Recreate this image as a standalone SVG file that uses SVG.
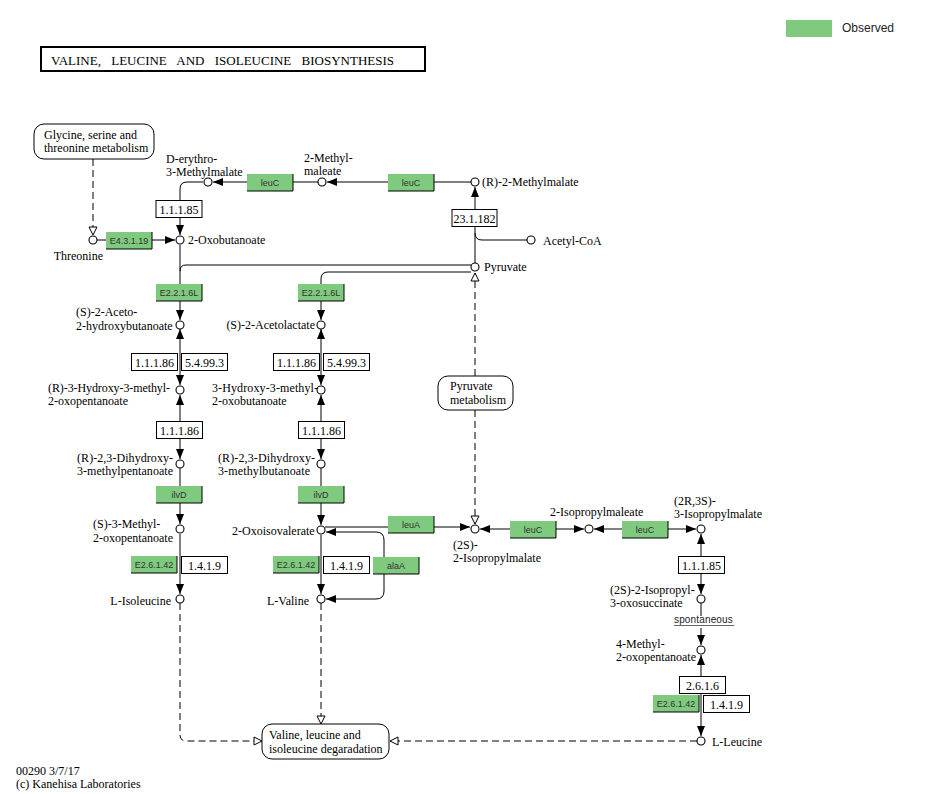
<svg xmlns="http://www.w3.org/2000/svg" width="926" height="794" viewBox="0 0 926 794">
<defs>
<style>
.c{font-family:"Liberation Serif","Times New Roman",serif;font-size:12px;fill:#000}
.ce{font-family:"Liberation Serif","Times New Roman",serif;font-size:12px;fill:#000;text-anchor:middle}
.gt{font-family:"Liberation Sans",Arial,sans-serif;font-size:9px;fill:#333;text-anchor:middle}
.ln{fill:none;stroke:#000;stroke-width:1}
.dl{fill:none;stroke:#000;stroke-width:1;stroke-dasharray:7,4}
.cp{fill:#fff;stroke:#000;stroke-width:1.1}
.eb{fill:#fff;stroke:#000;stroke-width:1}
.gb{fill:#7fca7f}
.sh{fill:none;stroke:#000;stroke-width:1}
.mp{fill:#fff;stroke:#000;stroke-width:1}
</style>
<marker id="a" markerUnits="userSpaceOnUse" markerWidth="10" markerHeight="8" refX="10" refY="4" orient="auto-start-reverse"><path d="M0,0 L10,4 L0,8 z" fill="#000"/></marker>
<marker id="h" markerUnits="userSpaceOnUse" markerWidth="10" markerHeight="10" refX="9" refY="5" orient="auto"><path d="M1,1 L9,5 L1,9 z" fill="#fff" stroke="#000" stroke-width="1"/></marker>
</defs>
<rect width="926" height="794" fill="#fff"/>

<g id="connectors">
<path class="dl" d="M93,159 V235" marker-end="url(#h)"/>
<path class="ln" d="M97,240 H106"/>
<path class="ln" d="M152,240 H175" marker-end="url(#a)"/>
<path class="ln" d="M247,182 H213" marker-end="url(#a)"/>
<path class="ln" d="M203,182 H187 Q180,182 180,189 V235" marker-end="url(#a)"/>
<path class="ln" d="M293,182 H318"/>
<path class="ln" d="M388,182 H327" marker-end="url(#a)"/>
<path class="ln" d="M434,182 H471"/>
<path class="ln" d="M475,263 V187" marker-end="url(#a)"/>
<path class="ln" d="M527,240 H482 Q475,240 475,233"/>
<path class="ln" d="M471,265 H186 Q180,265 180,271"/>
<path class="ln" d="M180,245 V320" marker-end="url(#a)"/>
<path class="ln" d="M471,272 H328 Q321,272 321,279 V320" marker-end="url(#a)"/>
<path class="ln" d="M180,329 V385" marker-start="url(#a)" marker-end="url(#a)"/>
<path class="ln" d="M180,395 V459" marker-start="url(#a)" marker-end="url(#a)"/>
<path class="ln" d="M180,468 V524" marker-end="url(#a)"/>
<path class="ln" d="M180,534 V594" marker-end="url(#a)"/>
<path class="dl" d="M180,603 V735 Q180,741 186,741 H262" marker-end="url(#h)"/>
<path class="ln" d="M321,329 V385" marker-start="url(#a)" marker-end="url(#a)"/>
<path class="ln" d="M321,395 V459" marker-start="url(#a)" marker-end="url(#a)"/>
<path class="ln" d="M321,468 V525" marker-end="url(#a)"/>
<path class="ln" d="M321,535 V594" marker-end="url(#a)"/>
<path class="dl" d="M321,603 V724" marker-end="url(#h)"/>
<path class="ln" d="M388,527 H325"/>
<path class="ln" d="M384,557 V540 Q384,532 376,532 H326" marker-end="url(#a)"/>
<path class="ln" d="M384,574 V591 Q384,599 376,599 H326" marker-end="url(#a)"/>
<path class="dl" d="M475,376 V273" marker-end="url(#h)"/>
<path class="dl" d="M475,410 V524" marker-end="url(#h)"/>
<path class="ln" d="M434,527 H470" marker-end="url(#a)"/>
<path class="ln" d="M510,529 H480" marker-end="url(#a)"/>
<path class="ln" d="M556,529 H584" marker-end="url(#a)"/>
<path class="ln" d="M622,529 H594" marker-end="url(#a)"/>
<path class="ln" d="M668,529 H696" marker-end="url(#a)"/>
<path class="ln" d="M701,534 V594" marker-start="url(#a)" marker-end="url(#a)"/>
<path class="ln" d="M701,603 V616"/>
<path class="ln" d="M701,628 V645" marker-end="url(#a)"/>
<path class="ln" d="M701,655 V736" marker-start="url(#a)" marker-end="url(#a)"/>
<path class="dl" d="M697,741 H390" marker-end="url(#h)"/>
</g>

<g id="title"><rect x="41" y="47" width="384" height="24" fill="#fff" stroke="#000" stroke-width="2"/><text class="c" x="51" y="65" style="font-size:13px;word-spacing:7px">VALINE, LEUCINE AND ISOLEUCINE BIOSYNTHESIS</text></g>
<g id="legend"><rect class="gb" x="786" y="20" width="46" height="17"/><text x="842" y="32" style="font-family:'Liberation Sans',Arial,sans-serif;font-size:12px;fill:#222">Observed</text></g>

<g id="map-glycine"><rect class="mp" x="34" y="124" width="120" height="35" rx="10"/><text class="c"><tspan x="44" y="139">Glycine, serine and</tspan><tspan x="44" y="152.3">threonine metabolism</tspan></text></g>
<g id="map-pyruvate"><rect class="mp" x="438" y="376" width="75" height="34" rx="10"/><text class="c"><tspan x="450" y="390.4">Pyruvate</tspan><tspan x="450" y="403.7">metabolism</tspan></text></g>
<g id="map-degradation"><rect class="mp" x="262" y="724" width="127" height="35" rx="10"/><text class="c"><tspan x="269" y="739.4">Valine, leucine and</tspan><tspan x="269" y="752.7">isoleucine degaradation</tspan></text></g>

<g id="c-threonine"><circle class="cp" cx="93" cy="240" r="4"/><text class="c" x="103" y="260" text-anchor="end">Threonine</text></g>
<g id="c-2-oxobutanoate"><circle class="cp" cx="180" cy="240" r="4"/><text class="c" x="188" y="244">2-Oxobutanoate</text></g>
<g id="c-d-erythro"><circle class="cp" cx="208" cy="182" r="4"/><text class="c"><tspan x="166" y="162.7">D-erythro-</tspan><tspan x="166" y="176">3-Methylmalate</tspan></text></g>
<g id="c-2-methylmaleate"><circle class="cp" cx="322" cy="182" r="4"/><text class="c"><tspan x="304" y="161.7">2-Methyl-</tspan><tspan x="304" y="175">maleate</tspan></text></g>
<g id="c-r-2-methylmalate"><circle class="cp" cx="475" cy="182" r="4"/><text class="c" x="482" y="186">(R)-2-Methylmalate</text></g>
<g id="c-acetyl-coa"><circle class="cp" cx="531" cy="240" r="4"/><text class="c" x="543" y="245">Acetyl-CoA</text></g>
<g id="c-pyruvate"><circle class="cp" cx="475" cy="267" r="4"/><text class="c" x="484" y="271">Pyruvate</text></g>
<g id="c-s-2-aceto"><circle class="cp" cx="180" cy="325" r="4"/><text class="c"><tspan x="76" y="316.3">(S)-2-Aceto-</tspan><tspan x="76" y="329.6">2-hydroxybutanoate</tspan></text></g>
<g id="c-s-2-acetolactate"><circle class="cp" cx="321" cy="325" r="4"/><text class="c" x="315" y="329" text-anchor="end">(S)-2-Acetolactate</text></g>
<g id="c-r-3-hydroxy"><circle class="cp" cx="180" cy="390" r="4"/><text class="c"><tspan x="48" y="392" textLength="122">(R)-3-Hydroxy-3-methyl-</tspan><tspan x="48" y="405.3">2-oxopentanoate</tspan></text></g>
<g id="c-3-hydroxy"><circle class="cp" cx="321" cy="390" r="4"/><text class="c"><tspan x="212" y="392" textLength="106">3-Hydroxy-3-methyl-</tspan><tspan x="212" y="405.3">2-oxobutanoate</tspan></text></g>
<g id="c-r-dihydroxy-pent"><circle class="cp" cx="180" cy="464" r="4"/><text class="c"><tspan x="77" y="462" textLength="96">(R)-2,3-Dihydroxy-</tspan><tspan x="77" y="475.3" textLength="96">3-methylpentanoate</tspan></text></g>
<g id="c-r-dihydroxy-but"><circle class="cp" cx="321" cy="464" r="4"/><text class="c"><tspan x="218" y="462" textLength="97">(R)-2,3-Dihydroxy-</tspan><tspan x="218" y="475.3" textLength="92">3-methylbutanoate</tspan></text></g>
<g id="c-s-3-methyl"><circle class="cp" cx="180" cy="529" r="4"/><text class="c"><tspan x="93" y="528.4">(S)-3-Methyl-</tspan><tspan x="93" y="541.7">2-oxopentanoate</tspan></text></g>
<g id="c-2-oxoisovalerate"><circle class="cp" cx="321" cy="530" r="4"/><text class="c" x="232" y="535">2-Oxoisovalerate</text></g>
<g id="c-l-isoleucine"><circle class="cp" cx="180" cy="599" r="4"/><text class="c" x="171" y="605" text-anchor="end">L-Isoleucine</text></g>
<g id="c-l-valine"><circle class="cp" cx="321" cy="599" r="4"/><text class="c" x="309" y="605" text-anchor="end">L-Valine</text></g>
<g id="c-2s-2-isopropylmalate"><circle class="cp" cx="475" cy="529" r="4"/><text class="c"><tspan x="453" y="549">(2S)-</tspan><tspan x="453" y="562.3">2-Isopropylmalate</tspan></text></g>
<g id="c-2-isopropylmaleate"><circle class="cp" cx="589" cy="529" r="4"/><text class="c" x="550" y="516">2-Isopropylmaleate</text></g>
<g id="c-2r3s"><circle class="cp" cx="701" cy="529" r="4"/><text class="c"><tspan x="674" y="504.7">(2R,3S)-</tspan><tspan x="674" y="518">3-Isopropylmalate</tspan></text></g>
<g id="c-2s-oxosuccinate"><circle class="cp" cx="701" cy="599" r="4"/><text class="c"><tspan x="610" y="594">(2S)-2-Isopropyl-</tspan><tspan x="610" y="607.3">3-oxosuccinate</tspan></text></g>
<g id="spontaneous"><text x="674" y="623" style="font-family:'Liberation Sans',Arial,sans-serif;font-size:10px;fill:#222;letter-spacing:0.15px">spontaneous</text><path d="M674,625.5 H734" stroke="#666" stroke-width="1"/></g>
<g id="c-4-methyl"><circle class="cp" cx="701" cy="650" r="4"/><text class="c"><tspan x="616" y="648">4-Methyl-</tspan><tspan x="616" y="661.3">2-oxopentanoate</tspan></text></g>
<g id="c-l-leucine"><circle class="cp" cx="701" cy="741" r="4"/><text class="c" x="712" y="746">L-Leucine</text></g>

<g id="e-4.3.1.19"><rect class="gb" x="106" y="232" width="46" height="17"/><path class="sh" d="M152,232 V249 H106"/><text class="gt" x="129" y="244">E4.3.1.19</text></g>
<g id="e-leuC-1"><rect class="gb" x="247" y="174" width="46" height="17"/><path class="sh" d="M293,174 V191 H247"/><text class="gt" x="270" y="186">leuC</text></g>
<g id="e-leuC-2"><rect class="gb" x="388" y="174" width="46" height="17"/><path class="sh" d="M434,174 V191 H388"/><text class="gt" x="411" y="186">leuC</text></g>
<g id="e-1.1.1.85-a"><rect class="eb" x="156" y="200.5" width="46" height="17"/><text class="ce" x="179" y="214">1.1.1.85</text></g>
<g id="e-23.1.182"><rect class="eb" x="452" y="209.5" width="45" height="17"/><text class="ce" x="474.5" y="223">23.1.182</text></g>
<g id="e-2.2.1.6-a"><rect class="gb" x="156" y="284" width="46" height="17"/><path class="sh" d="M202,284 V301 H156"/><text class="gt" x="179" y="296">E2.2.1.6L</text></g>
<g id="e-2.2.1.6-b"><rect class="gb" x="298" y="284" width="46" height="17"/><path class="sh" d="M344,284 V301 H298"/><text class="gt" x="321" y="296">E2.2.1.6L</text></g>
<g id="e-1.1.1.86-a"><rect class="eb" x="131.5" y="353.5" width="46" height="17"/><text class="ce" x="154.5" y="367">1.1.1.86</text></g>
<g id="e-5.4.99.3-a"><rect class="eb" x="181.5" y="353.5" width="46" height="17"/><text class="ce" x="204.5" y="367">5.4.99.3</text></g>
<g id="e-1.1.1.86-b"><rect class="eb" x="273.5" y="353.5" width="46" height="17"/><text class="ce" x="296.5" y="367">1.1.1.86</text></g>
<g id="e-5.4.99.3-b"><rect class="eb" x="323.5" y="353.5" width="46" height="17"/><text class="ce" x="346.5" y="367">5.4.99.3</text></g>
<g id="e-1.1.1.86-c"><rect class="eb" x="156.5" y="421.5" width="46" height="17"/><text class="ce" x="179.5" y="435">1.1.1.86</text></g>
<g id="e-1.1.1.86-d"><rect class="eb" x="298.5" y="421.5" width="46" height="17"/><text class="ce" x="321.5" y="435">1.1.1.86</text></g>
<g id="e-ilvD-a"><rect class="gb" x="156" y="486" width="46" height="17"/><path class="sh" d="M202,486 V503 H156"/><text class="gt" x="179" y="498">ilvD</text></g>
<g id="e-ilvD-b"><rect class="gb" x="298" y="486" width="46" height="17"/><path class="sh" d="M344,486 V503 H298"/><text class="gt" x="321" y="498">ilvD</text></g>
<g id="e-2.6.1.42-a"><rect class="gb" x="131" y="556" width="46" height="17"/><path class="sh" d="M177,556 V573 H131"/><text class="gt" x="154" y="568">E2.6.1.42</text></g>
<g id="e-1.4.1.9-a"><rect class="eb" x="181.5" y="556.5" width="46" height="17"/><text class="ce" x="204.5" y="570">1.4.1.9</text></g>
<g id="e-2.6.1.42-b"><rect class="gb" x="273" y="556" width="46" height="17"/><path class="sh" d="M319,556 V573 H273"/><text class="gt" x="296" y="568">E2.6.1.42</text></g>
<g id="e-1.4.1.9-b"><rect class="eb" x="323.5" y="556.5" width="46" height="17"/><text class="ce" x="346.5" y="570">1.4.1.9</text></g>
<g id="e-alaA"><rect class="gb" x="373" y="557" width="46" height="17"/><path class="sh" d="M419,557 V574 H373"/><text class="gt" x="396" y="569">alaA</text></g>
<g id="e-leuA"><rect class="gb" x="388" y="516" width="46" height="17"/><path class="sh" d="M434,516 V533 H388"/><text class="gt" x="411" y="528">leuA</text></g>
<g id="e-leuC-3"><rect class="gb" x="510" y="521" width="46" height="17"/><path class="sh" d="M556,521 V538 H510"/><text class="gt" x="533" y="533">leuC</text></g>
<g id="e-leuC-4"><rect class="gb" x="622" y="521" width="46" height="17"/><path class="sh" d="M668,521 V538 H622"/><text class="gt" x="645" y="533">leuC</text></g>
<g id="e-1.1.1.85-b"><rect class="eb" x="678.5" y="556.5" width="46" height="17"/><text class="ce" x="701.5" y="570">1.1.1.85</text></g>
<g id="e-2.6.1.6"><rect class="eb" x="679.5" y="676.5" width="46" height="17"/><text class="ce" x="702.5" y="690">2.6.1.6</text></g>
<g id="e-2.6.1.42-c"><rect class="gb" x="653" y="695" width="46" height="17"/><path class="sh" d="M699,695 V712 H653"/><text class="gt" x="676" y="707">E2.6.1.42</text></g>
<g id="e-1.4.1.9-c"><rect class="eb" x="703.5" y="695.5" width="46" height="17"/><text class="ce" x="726.5" y="709">1.4.1.9</text></g>

<g id="footer"><text class="c"><tspan x="16" y="775">00290 3/7/17</tspan><tspan x="16" y="788.3">(c) Kanehisa Laboratories</tspan></text></g>
</svg>
